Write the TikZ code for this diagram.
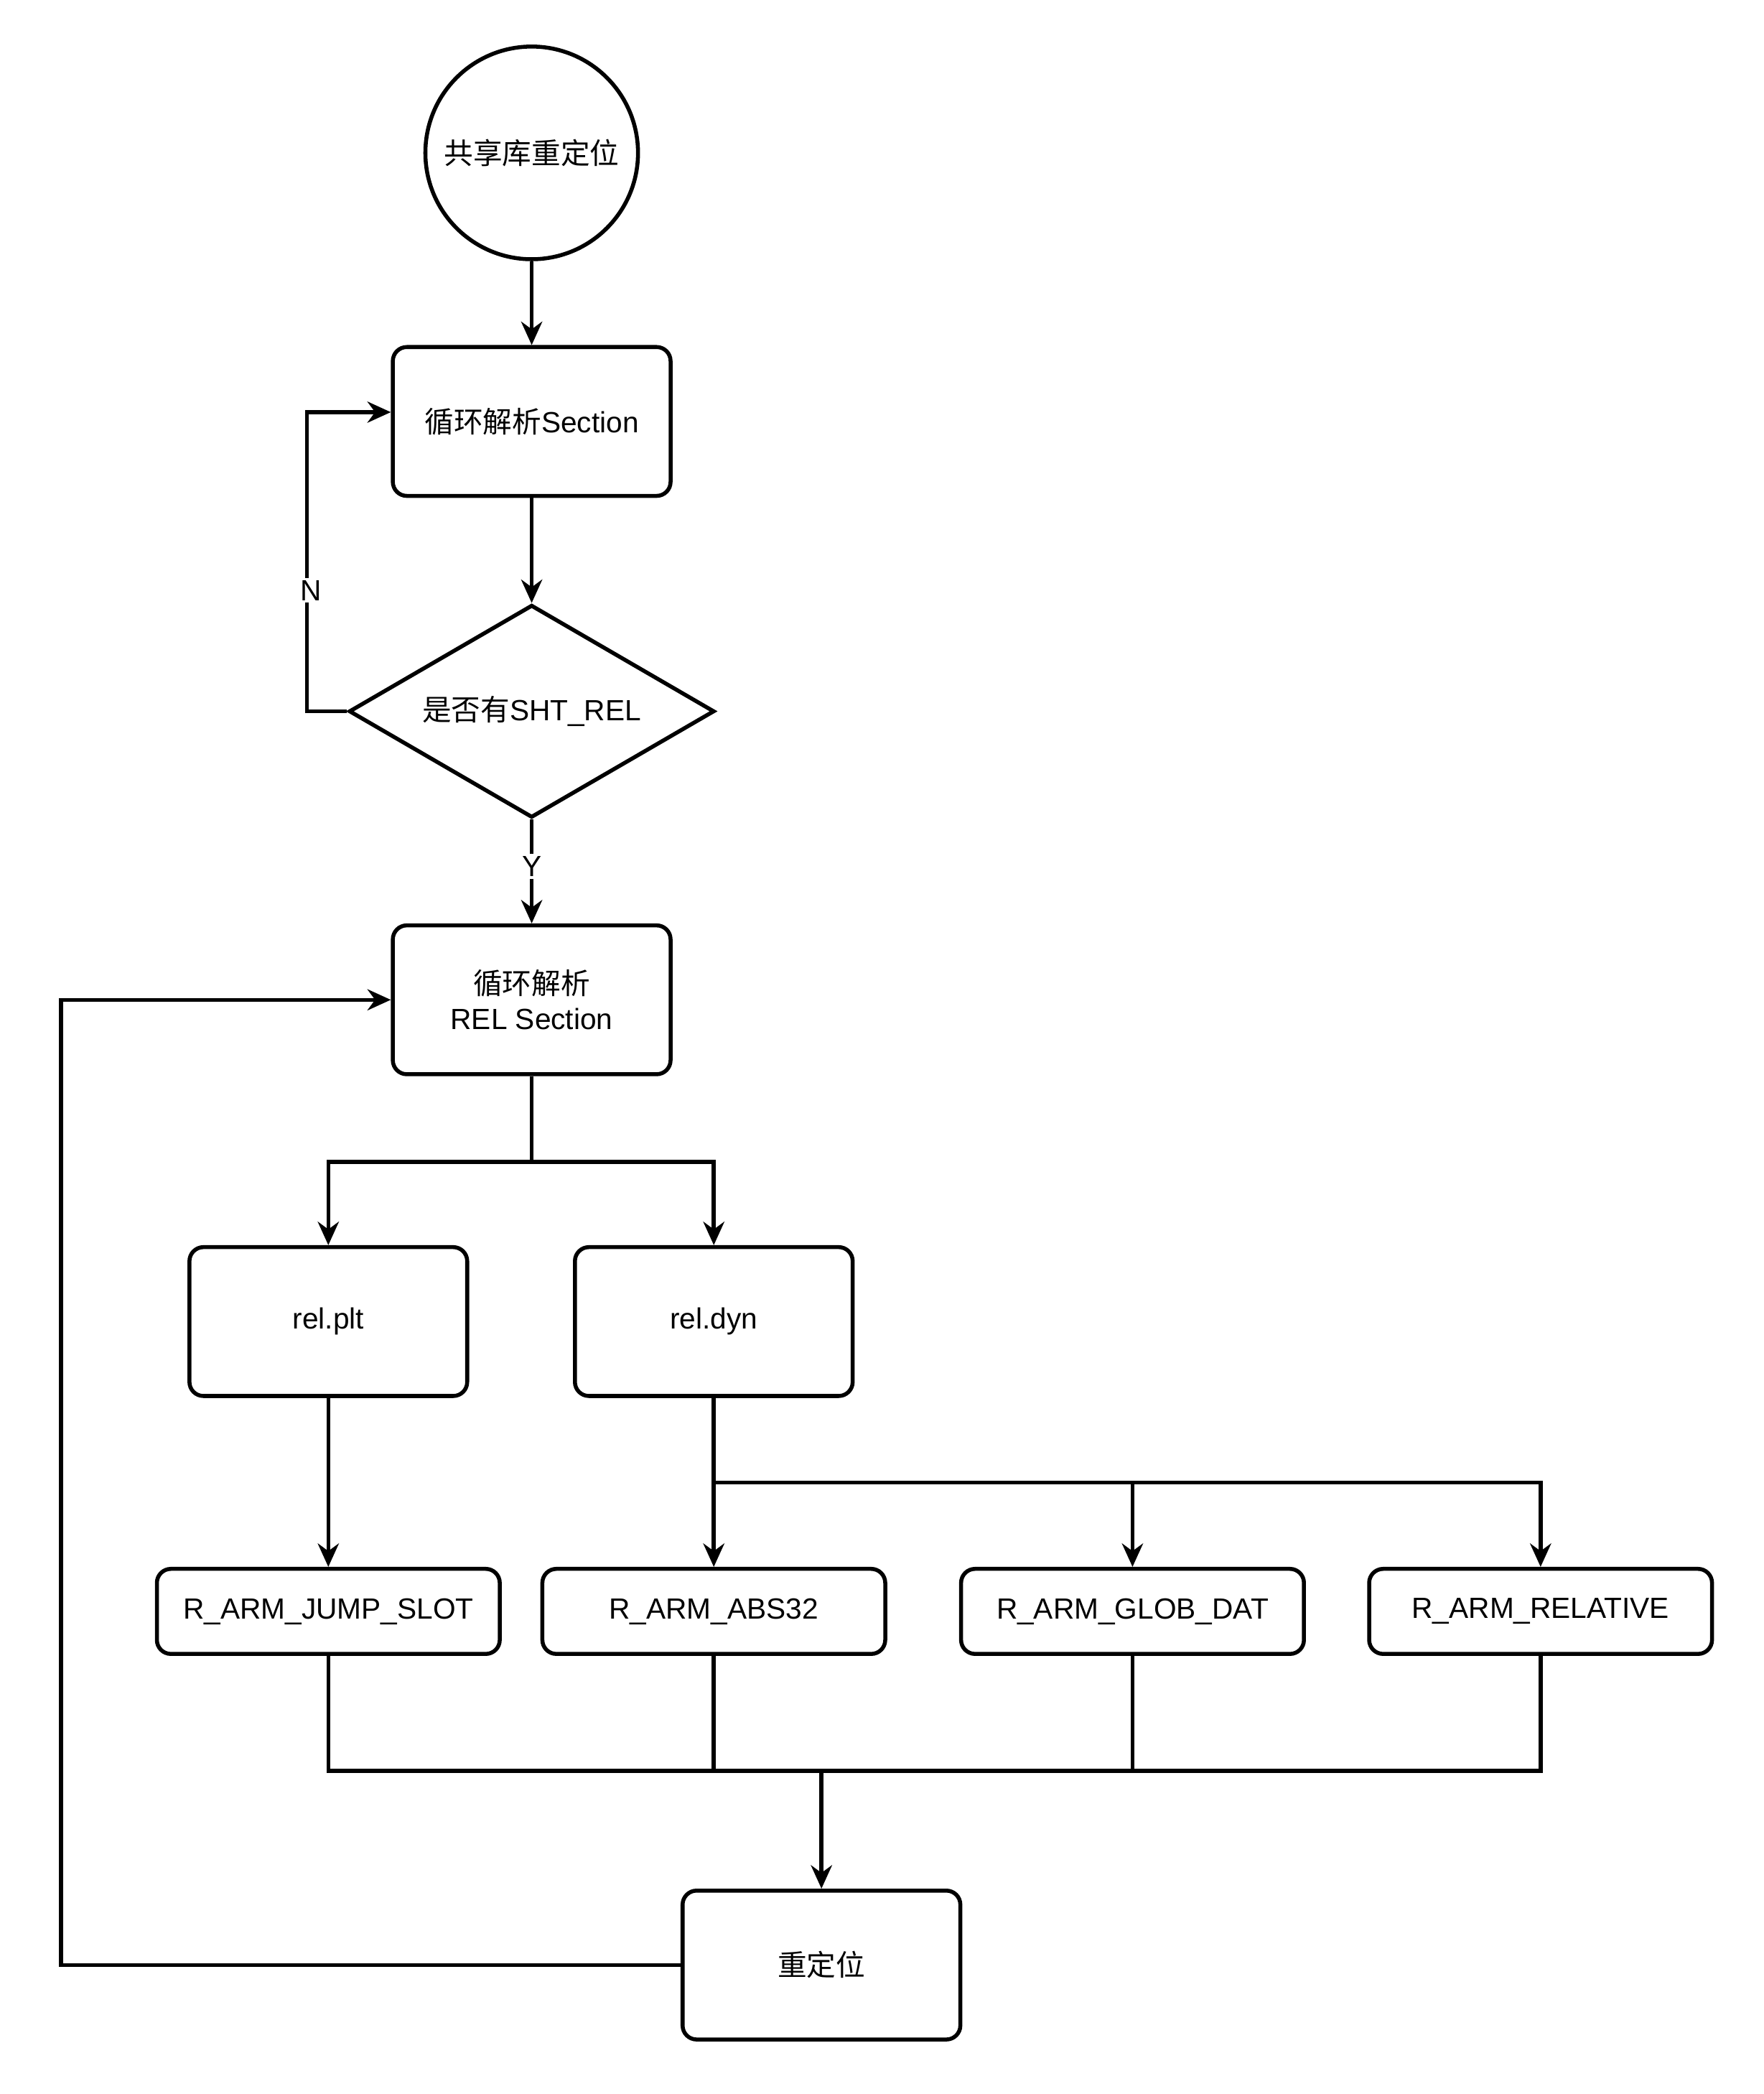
\documentclass[tikz,border=0pt]{standalone}
\usepackage{fontspec}
\setmainfont{Liberation Sans}
\newfontfamily\cjk{Noto Sans CJK SC}
\usetikzlibrary{shapes.geometric,arrows.meta}
\begin{document}
\begin{tikzpicture}[x=0.02cm,y=-0.02cm,
  every node/.style={font=\fontsize{12.5pt}{15pt}\selectfont, align=center},
  box/.style={draw,line width=1.7pt,rounded corners=6pt,minimum width=4.18cm,minimum height=2.24cm,inner sep=0pt},
  sbox/.style={draw,line width=1.7pt,rounded corners=6pt,minimum width=5.16cm,minimum height=1.28cm,inner sep=0pt},
  ln/.style={line width=1.7pt},
  ar/.style={ln,-{Stealth[length=10pt,width=9pt]}}]
\useasboundingbox (0,0) rectangle (1327,1575);
\node[draw,circle,line width=1.7pt,minimum size=3.2cm,inner sep=0pt] (start) at (400,115) {\cjk 共享库重定位};
\node[box] (b1) at (400,317) {{\cjk 循环解析}Section};
\node[draw,diamond,line width=1.7pt,minimum width=5.5cm,minimum height=3.2cm,inner sep=0pt,aspect=1.72] (d) at (400,535) {{\cjk 是否有}SHT\_REL};
\node[box] (b2) at (400,752) {{\cjk 循环解析}\\REL Section};
\node[box] (plt) at (247,994) {rel.plt};
\node[box] (dyn) at (537,994) {rel.dyn};
\node[sbox] (js) at (247,1212) {R\_ARM\_JUMP\_SLOT};
\node[sbox] (abs) at (537,1212) {R\_ARM\_ABS32};
\node[sbox] (gd) at (852,1212) {R\_ARM\_GLOB\_DAT};
\node[sbox] (rl) at (1159,1212) {R\_ARM\_RELATIVE};
\node[box] (re) at (618,1478) {\cjk 重定位};
\coordinate (m) at (618,1332);
\draw[ar] (start) -- (b1);
\draw[ar] (b1) -- (d);
\draw[ar] (d.west) -- (231,535) -- (231,310) -- (b1.west |- 0,310);
\node[fill=white,inner sep=1pt] at (234,444) {N};
\draw[ar] (d) -- node[fill=white,inner sep=1pt,pos=0.45]{Y} (b2);
\draw[ln] (b2.south) -- (400,874);
\draw[ar] (400,874) -| (plt.north);
\draw[ar] (400,874) -| (dyn.north);
\draw[ar] (plt) -- (js);
\draw[ar] (dyn) -- (abs);
\draw[ar] (537,1115) -| (gd.north);
\draw[ar] (537,1115) -| (rl.north);
\draw[ln] (js.south) -- (247,1332) -- (1159,1332) -- (rl.south);
\draw[ln] (abs.south) -- (537,1332);
\draw[ln] (gd.south) -- (852,1332);
\draw[ar] (m) -- (re);
\draw[ar] (re.west) -- (46,1478) -- (46,752) -- (b2.west);
\end{tikzpicture}
\end{document}
